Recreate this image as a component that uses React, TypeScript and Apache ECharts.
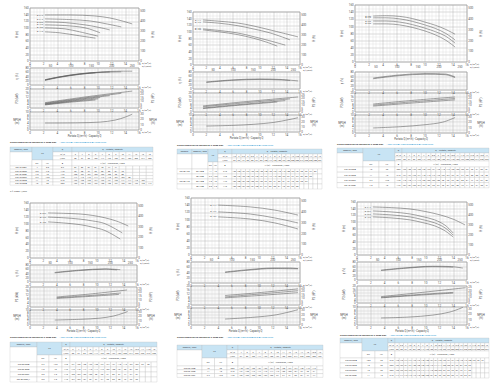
import React, { useEffect, useRef } from "react";
import * as echarts from "echarts";

type Pt = [number, number];

const Q_MAX = 16;

// ---------------- Panel 1 (top-left) ----------------
const P1_CURVE_LABELS = ["Ø 219", "Ø 210", "Ø 200", "Ø 190", "Ø 180", "Ø 170"];
const P1_HEAD: Pt[][] = [
  [[2.2, 139], [5.9, 139], [9.5, 136], [11.7, 130], [13.5, 121], [15.0, 112]],
  [[2.2, 127], [5.9, 125], [8.8, 121], [11.0, 113], [13.4, 103]],
  [[2.2, 118], [5.1, 116], [8.1, 109], [10.0, 102], [11.7, 94]],
  [[2.2, 109], [5.1, 107], [8.1, 100], [10.3, 85]],
  [[2.2, 100], [5.1, 97], [7.3, 88], [10.0, 75]],
  [[2.2, 88], [4.4, 85], [7.3, 76], [9.6, 69]],
];
const P1_ETA: Pt[][] = [
  [[2.2, 24], [4.4, 38], [7.3, 52], [10.3, 61], [13.2, 65], [15.0, 65]],
  [[2.2, 22], [4.4, 36], [7.3, 50], [10.3, 59], [13.4, 62]],
  [[2.2, 25], [4.4, 39], [7.3, 53], [10.3, 60], [11.7, 61]],
  [[2.2, 23], [4.4, 38], [7.3, 51], [9.6, 57]],
];
const P1_POWER: Pt[][] = [
  [[2.2, 5.6], [8.5, 12.0], [15.0, 17.8]],
  [[2.2, 5.0], [8.0, 10.6], [13.4, 15.4]],
  [[2.2, 4.4], [7.0, 9.0], [11.7, 13.0]],
  [[2.2, 4.0], [6.5, 7.8], [10.3, 11.0]],
  [[2.2, 3.6], [6.0, 6.8], [10.0, 9.6]],
  [[2.2, 3.2], [5.5, 5.8], [9.6, 8.4]],
];
const P1_NPSH: Pt[][] = [
  [[2.2, 3.9], [7.0, 4.0], [10.3, 4.4], [12.5, 5.5], [14.0, 7.2], [15.0, 8.8]],
];
const P1_MODELS = ["CM 40-200F", "CM 40-200E", "CM 40-200D", "CM 40-200C", "CM 40-200B", "CM 40-200A"];
const P1_KW = ["4", "5.5", "7.5", "9.2", "11", "15"];
const P1_HP = ["5.5", "7.5", "10", "12.5", "15", "20"];
const P1_AMP = ["8.2", "11.0", "14.6", "17.8", "21.0", "28.0"];
const P1_Q = [3, 4, 5, 6, 7, 8, 9, 10, 11, 12, 13, 15];
const P1_LMIN = [50, 67, 83, 100, 117, 133, 150, 167, 183, 200, 217, 250];
const P1_ROWS = [
  [87, 86, 84, 81, 78, 74, 71],
  [99, 98, 97, 93, 89, 85, 81, 75],
  [108, 107, 107, 105, 103, 100, 95, 88],
  [117, 116, 116, 114, 112, 110, 107, 103, 98],
  [126, 125, 125, 124, 123, 121, 120, 117, 114, 110, 106],
  [139, 139, 139, 139, 138, 138, 137, 135, 132, 129, 125, 112],
];

// ---------------- Panel 2 (top-middle) ----------------
const P2_CURVE_LABELS = ["Ø 174", "Ø 169", "Ø 156", "Ø 150"];
const P2_HEAD: Pt[][] = [
  [[1.5, 136], [4, 132], [6.6, 127], [9, 118], [11.5, 106], [13.5, 96], [15.7, 85]],
  [[1.5, 130], [4, 126], [6.6, 119], [9, 109], [11.5, 97], [14.5, 76]],
  [[1.5, 109], [4, 104], [6.6, 97], [9, 86], [11.5, 73], [13.8, 60]],
  [[1.5, 106], [4, 100], [6.6, 92], [9, 81], [11, 69], [12.6, 57]],
];
const P2_ETA: Pt[][] = [
  [[2, 33], [6, 43], [10, 47], [13, 45], [15.7, 38]],
  [[2, 31], [6, 41], [10, 45], [13, 43], [14.5, 40]],
];
const P2_POWER: Pt[][] = [
  [[1.5, 6.4], [8, 11.0], [15.7, 15.8]],
  [[1.5, 5.5], [7.5, 9.5], [14.5, 13.8]],
  [[1.5, 4.2], [8, 8.5], [13.8, 12.0]],
  [[1.5, 3.6], [7, 7.2], [12.6, 10.5]],
];
const P2_NPSH: Pt[][] = [
  [[2, 3.5], [6, 3.9], [9, 4.5], [12, 5.6], [14.5, 7.4], [15.7, 8.4]],
];
const P2_GROUPS = ["CM 50-160", "", "CM 50-125", ""];
const P2_MODELS = ["50-160A", "50-160B", "50-125A", "50-125B"];
const P2_KW = ["11", "9.2", "7.5", "5.5"];
const P2_HP = ["15", "12.5", "10", "7.5"];
const P2_AMP = ["21.0", "17.8", "14.6", "11.0"];
const P2_Q = [1.5, 2, 2.5, 3, 3.5, 4, 5, 6, 7, 8, 9, 10, 11, 12, 12.5, 13, 13.5, 14, 15, 16];
const P2_LMIN = [25, 33, 42, 50, 58, 67, 83, 100, 117, 133, 150, 167, 183, 200, 208, 217, 225, 233, 250, 267];
const P2_ROWS = [
  [136, 135, 134, 134, 133, 132, 130, 128, 126, 122, 118, 113, 108, 104, 101, 98, 96, 94, 89],
  [130, 129, 129, 128, 127, 126, 124, 121, 117, 113, 109, 104, 99, 94, 92, 89, 86, 83],
  [109, 108, 107, 106, 105, 104, 102, 99, 95, 91, 86, 81, 76, 70, 68, 65, 62],
  [106, 105, 104, 102, 101, 100, 97, 94, 89, 85, 81, 75, 69, 62, 58],
];

// ---------------- Panel 3 (top-right) ----------------
const P3_CURVE_LABELS = ["Ø 250", "Ø 240", "Ø 230", "Ø 220"];
const P3_HEAD: Pt[][] = [
  [[2.6, 129], [4.5, 130], [6.4, 128], [8.2, 122], [10.0, 112], [11.5, 103], [12.9, 92], [14.3, 78]],
  [[2.6, 124], [4.5, 124], [6.4, 121], [8.2, 114], [10.0, 104], [11.5, 94], [12.9, 81], [14.3, 62]],
  [[2.6, 115], [4.5, 115], [6.4, 112], [8.2, 105], [10.0, 95], [11.5, 85], [12.9, 73], [14.3, 53]],
  [[2.6, 107], [4.5, 107], [6.4, 104], [8.2, 97], [10.0, 87], [11.5, 76], [12.9, 62], [14.3, 42]],
];
const P3_ETA: Pt[][] = [
  [[2.6, 53], [6.4, 67], [10.0, 73], [12.9, 71], [14.3, 58]],
  [[2.6, 50], [6.4, 64], [10.0, 70], [12.9, 68], [14.3, 55]],
];
const P3_POWER: Pt[][] = [
  [[2.6, 8.4], [8.5, 12.4], [14.3, 15.8]],
  [[2.6, 7.2], [8.5, 10.9], [14.3, 14.2]],
  [[2.6, 6.2], [8.5, 9.6], [14.3, 12.8]],
];
const P3_NPSH: Pt[][] = [
  [[2.6, 2.8], [6.5, 3.5], [10, 4.6], [12.5, 6.0], [14.3, 8.6]],
];
const P3_MODELS = ["CM 40-250A", "CM 40-250B", "CM 40-250C", "CM 40-250D"];
const P3_KW = ["15", "11", "9.2", "7.5"];
const P3_HP = ["20", "15", "12.5", "10"];
const P3_AMP = ["28.0", "21.0", "17.8", "14.6"];
const P3_Q = [3, 4, 5, 6, 7, 8, 8.5, 9, 9.5, 10, 10.5, 11, 11.5, 12, 12.5, 13, 13.5, 14];
const P3_LMIN = [50, 67, 83, 100, 117, 133, 142, 150, 158, 167, 175, 183, 192, 200, 208, 217, 225, 233];
const P3_ROWS = [
  [129, 130, 129, 128, 126, 123, 121, 118, 115, 112, 109, 106, 103, 99, 95, 91, 86, 81],
  [124, 124, 123, 121, 118, 115, 112, 110, 107, 104, 101, 97, 94, 90, 85, 80, 75, 68],
  [115, 115, 114, 112, 109, 106, 103, 100, 98, 95, 92, 89, 85, 81, 77, 72, 67, 59],
  [107, 107, 106, 104, 101, 98, 95, 92, 90, 87, 83, 80, 76, 71, 66, 61, 55, 47],
];

// ---------------- Panel 4 (bottom-left) ----------------
const P4_CURVE_LABELS = ["Ø 209", "Ø 199", "Ø 188"];
const P4_HEAD: Pt[][] = [
  [[2.7, 131], [5, 130], [7.5, 128], [9.3, 124], [11.2, 117], [13, 107], [14.7, 93]],
  [[2.7, 119], [5, 117], [7.5, 113], [9.3, 108], [11.2, 100], [13.8, 73]],
  [[2.7, 105], [5, 102], [7.5, 97], [9.3, 90], [11.2, 80], [13.5, 55]],
];
const P4_ETA: Pt[][] = [
  [[3.7, 45], [7.5, 56], [11.2, 62], [13.5, 58]],
  [[3.7, 43], [7.5, 54], [11.2, 60], [13.0, 57]],
];
const P4_POWER: Pt[][] = [
  [[4, 10.0], [9, 13.0], [14.5, 17.0]],
  [[4, 9.2], [9, 11.5], [13.6, 14.0]],
  [[4, 8.6], [9, 10.6], [13.3, 12.6]],
];
const P4_NPSH: Pt[][] = [
  [[3.7, 3.3], [7.5, 3.8], [10.5, 4.6], [12.5, 6.0], [14.0, 8.0], [14.6, 9.0]],
];
const P4_MODELS = ["CM 50-200A", "CM 50-200B", "CM 50-200C", "CM 50-200C/1"];
const P4_KW = ["9.2", "7.5", "5.5", "5.5"];
const P4_HP = ["12.5", "10", "7.5", "7.5"];
const P4_AMP = ["17.8", "14.6", "11.0", "11.0"];
const P4_Q = [3, 4, 5, 6, 7, 8, 9, 10, 11, 12, 13, 13.5, 14, 14.5, 15];
const P4_LMIN = [50, 67, 83, 100, 117, 133, 150, 167, 183, 200, 217, 225, 233, 242, 250];
const P4_ROWS = [
  [131, 130, 130, 129, 128, 127, 124, 121, 118, 113, 107, 103, 99, 95],
  [119, 118, 117, 115, 114, 112, 109, 105, 101, 95, 87, 82],
  [105, 103, 102, 100, 98, 95, 91, 86, 81, 74, 64, 57],
  [104, 103, 101, 99, 97, 94, 90, 85, 80, 73, 63, 56],
];

// ---------------- Panel 5 (bottom-middle) ----------------
const P5_CURVE_LABELS = ["Ø 174", "Ø 162", "Ø 152"];
const P5_HEAD: Pt[][] = [
  [[4.0, 140], [8.7, 135], [12.3, 126], [15.7, 112]],
  [[4.0, 121], [8.7, 115], [12.3, 104], [15.7, 90]],
  [[4.0, 107], [8.7, 101], [12.3, 90], [15.7, 73]],
];
const P5_ETA: Pt[][] = [
  [[5.0, 42], [8.5, 51], [12.0, 57], [14.5, 57], [15.7, 55]],
  [[5.0, 40], [8.5, 49], [12.0, 55], [15.7, 54]],
];
const P5_POWER: Pt[][] = [
  [[5, 10.0], [10, 13.0], [15.7, 17.0]],
  [[5, 8.5], [10, 11.5], [15.7, 15.0]],
  [[5, 7.5], [10, 10.0], [15.7, 13.0]],
];
const P5_NPSH: Pt[][] = [
  [[5, 3.5], [9, 4.5], [12.5, 6.0], [15.7, 9.0]],
];
const P5_MODELS = ["CM 65-160A", "CM 65-160B", "CM 65-160C"];
const P5_KW = ["15", "11", "9.2"];
const P5_HP = ["20", "15", "12.5"];
const P5_AMP = ["28.0", "21.0", "17.8"];
const P5_Q = [4, 5, 6, 7, 8, 9, 10, 11, 12, 13, 14, 15, 15.5, 16];
const P5_LMIN = [67, 83, 100, 117, 133, 150, 167, 183, 200, 217, 233, 250, 258, 267];
const P5_ROWS = [
  [140, 139, 138, 137, 136, 134, 132, 130, 127, 124, 120, 116, 113],
  [121, 120, 119, 117, 116, 114, 112, 109, 105, 101, 97, 93, 91],
  [107, 106, 105, 103, 102, 100, 97, 94, 91, 86, 81, 77, 74],
];

// ---------------- Panel 6 (bottom-right) ----------------
const P6_CURVE_LABELS = ["Ø 219", "Ø 209", "Ø 200", "Ø 190"];
const P6_HEAD: Pt[][] = [
  [[2.3, 145], [5, 143], [7.7, 139], [10, 131], [12.1, 121], [14, 108], [15.7, 91]],
  [[2.3, 133], [5, 130], [7.7, 124], [9.5, 116], [11.3, 106], [12.8, 90], [14, 66]],
  [[2.3, 124], [5, 121], [7.7, 115], [9.5, 107], [11.3, 97], [12.8, 82], [14, 60]],
  [[2.3, 115], [5, 112], [7.7, 106], [9.5, 98], [11.3, 88], [12.8, 73], [14, 54]],
];
const P6_ETA: Pt[][] = [
  [[3.5, 44], [7, 54], [11, 61], [13.5, 60], [15.4, 53]],
  [[3.5, 42], [7, 52], [11, 59], [14, 57]],
];
const P6_POWER: Pt[][] = [
  [[3.5, 7.5], [9.5, 12.5], [15.8, 18.0]],
  [[3.5, 6.5], [9, 10.0], [14.0, 12.5]],
  [[3.5, 6.0], [9, 9.2], [14.0, 11.6]],
];
const P6_NPSH: Pt[][] = [
  [[3.5, 3.9], [7.5, 4.4], [11, 5.5], [13.5, 7.2], [15.4, 9.8]],
];
const P6_MODELS = ["CM 65-200A", "CM 65-200B", "CM 65-200C", "CM 65-200D"];
const P6_KW = ["18.5", "15", "15", "11"];
const P6_HP = ["25", "20", "20", "15"];
const P6_AMP = ["34.0", "28.0", "28.0", "21.0"];
const P6_Q = [3, 3.5, 4, 4.5, 5, 6, 7, 8, 9, 10, 10.5, 11, 11.5, 12, 12.5, 13, 13.5, 14, 14.5, 15, 15.5, 16];
const P6_LMIN = [50, 58, 67, 75, 83, 100, 117, 133, 150, 167, 175, 183, 192, 200, 208, 217, 225, 233, 242, 250, 258, 267];
const P6_ROWS = [
  [145, 145, 144, 144, 143, 142, 140, 138, 134, 131, 129, 126, 124, 121, 118, 115, 112, 108, 104, 99, 94],
  [132, 132, 131, 131, 130, 128, 126, 123, 119, 114, 111, 108, 105, 101, 96, 87, 78, 66],
  [123, 123, 122, 122, 121, 119, 117, 114, 110, 105, 102, 99, 96, 92, 87, 79, 71, 60],
  [114, 114, 113, 113, 112, 110, 108, 105, 101, 96, 93, 90, 86, 82, 77, 70, 63, 54],
];

// ---------------- styling / layout (no data) ----------------
const BLUE = "#c8e4f4";
const INK = "#5a5a5a";
const FONT = "Roboto, 'DejaVu Sans', sans-serif";

const stdFixed = (models: string[], kw: string[], hp: string[], amp: string[]) => [
  { mode: "model", top: "Modello / Type", bot: "", vals: models },
  { mode: "blueL", top: "P2", bot: "kW", vals: kw },
  { mode: "blueR", bot: "HP", vals: hp },
  { mode: "q", top: "Q", bot: "A", vals: amp },
];

const PANELS = [
  { labels: P1_CURVE_LABELS, head: P1_HEAD, eta: P1_ETA, power: P1_POWER, npsh: P1_NPSH,
    table: { fixed: stdFixed(P1_MODELS, P1_KW, P1_HP, P1_AMP), q: P1_Q, l: P1_LMIN, rows: P1_ROWS } },
  { labels: P2_CURVE_LABELS, head: P2_HEAD, eta: P2_ETA, power: P2_POWER, npsh: P2_NPSH,
    table: { fixed: [{ mode: "model", top: "Modello", bot: "", vals: P2_GROUPS }, ...stdFixed(P2_MODELS, P2_KW, P2_HP, P2_AMP)], q: P2_Q, l: P2_LMIN, rows: P2_ROWS } },
  { labels: P3_CURVE_LABELS, head: P3_HEAD, eta: P3_ETA, power: P3_POWER, npsh: P3_NPSH,
    table: { fixed: stdFixed(P3_MODELS, P3_KW, P3_HP, P3_AMP), q: P3_Q, l: P3_LMIN, rows: P3_ROWS } },
  { labels: P4_CURVE_LABELS, head: P4_HEAD, eta: P4_ETA, power: P4_POWER, npsh: P4_NPSH,
    table: { fixed: stdFixed(P4_MODELS, P4_KW, P4_HP, P4_AMP), q: P4_Q, l: P4_LMIN, rows: P4_ROWS } },
  { labels: P5_CURVE_LABELS, head: P5_HEAD, eta: P5_ETA, power: P5_POWER, npsh: P5_NPSH,
    table: { fixed: stdFixed(P5_MODELS, P5_KW, P5_HP, P5_AMP), q: P5_Q, l: P5_LMIN, rows: P5_ROWS } },
  { labels: P6_CURVE_LABELS, head: P6_HEAD, eta: P6_ETA, power: P6_POWER, npsh: P6_NPSH,
    table: { fixed: stdFixed(P6_MODELS, P6_KW, P6_HP, P6_AMP), q: P6_Q, l: P6_LMIN, rows: P6_ROWS } },
];

const LAYOUTS = [
  { x: 30, w: 109, h: [8, 61], e: [68, 85], p: [89, 108], n: [112, 130],
    tbl: { x: 10, y: 147, w: 143, title: 142, widths: [22, 10, 11, 19], header: [5, 4, 4, 6], rowH: 3.2 } },
  { x: 193, w: 107, h: [12, 65], e: [72, 89], p: [93, 112], n: [115, 132],
    tbl: { x: 177, y: 149, w: 145, title: 145, widths: [15, 16, 5, 5, 14], header: [5, 4, 4, 7], rowH: 5 } },
  { x: 355, w: 112, h: [5, 62], e: [72, 90], p: [93, 112], n: [115, 133],
    tbl: { x: 337, y: 148, w: 152, title: 144, widths: [26, 16, 16, 7], header: [5, 4, 4, 6], rowH: 5.2 } },
  { x: 30, w: 107, h: [203, 258], e: [265, 282], p: [287, 307], n: [310, 325],
    tbl: { x: 10, y: 342, w: 147, title: 337.5, widths: [27, 12, 13, 8], header: [5, 4, 4, 7], rowH: 5 } },
  { x: 191, w: 109, h: [198, 255], e: [262, 283], p: [286, 305], n: [308, 325],
    tbl: { x: 177, y: 345, w: 146, title: 337.5, widths: [25, 12.5, 12.5, 11], header: [5, 4, 4, 8], rowH: 3.8 } },
  { x: 357, w: 110, h: [202, 255], e: [262, 280], p: [286, 303], n: [307, 325],
    tbl: { x: 340, y: 338, w: 149, title: 335, widths: [22, 13, 13, 7], header: [5, 4, 4, 7], rowH: 5 } },
];

const SUBS = [
  { key: "h", max: 160, step: 20, right: { max: 524.9, step: 100 }, lname: "H (m)", rname: "H (ft)", rot: true },
  { key: "e", max: 80, step: 20, lname: "η (%)", rot: true },
  { key: "p", max: 20, step: 4, right: { max: 26.8, step: 5 }, lname: "P2 (kW)", rname: "P2 (HP)", rot: true },
  { key: "n", max: 10, step: 2, right: { max: 32.8, step: 10 }, lname: "NPSH\n(m)", rname: "NPSH\n(ft)", rot: false },
];

const lbl = (extra: any = {}) => ({ fontSize: 3, color: "#555", fontFamily: FONT, margin: 1.2, ...extra });

function txt(x: number, y: number, text: string, size: number, opts: any = {}) {
  return {
    type: "text", x, y, silent: true, rotation: opts.rotation || 0,
    style: { text, fontSize: size, fill: opts.fill || "#444", fontFamily: FONT, fontWeight: opts.bold ? "bold" : "normal",
      align: opts.align || "center", verticalAlign: "middle", lineHeight: size * 1.1 },
  };
}

function tableEls(T: any, G: any) {
  const els: any[] = [];
  const [h1, h2, h3, h4] = G.header;
  const yD = G.y + h1 + h2 + h3 + h4;
  const fixedW = G.widths.reduce((a: number, b: number) => a + b, 0);
  const flowW = G.w - fixedW;
  const nF = T.q.length;
  const wf = flowW / nF;
  const cell = (x: number, y: number, w: number, h: number, fill: string, text?: string) => {
    els.push({ type: "rect", silent: true, shape: { x, y, width: w, height: h }, style: { fill, stroke: "#b8b8b8", lineWidth: 0.3 } });
    if (text) els.push(txt(x + w / 2, y + h / 2, text, 2.1, { fill: "#3a3a3a" }));
  };
  let cx = G.x;
  T.fixed.forEach((col: any, i: number) => {
    const w = G.widths[i];
    if (col.mode === "model") {
      cell(cx, G.y, w, h1, BLUE, col.top);
      cell(cx, G.y + h1, w, h2 + h3 + h4, "#fff", col.bot);
    } else if (col.mode === "blueL") {
      cell(cx, G.y, w + G.widths[i + 1], h1 + h2 + h3, BLUE, col.top);
      cell(cx, G.y + h1 + h2 + h3, w, h4, "#fff", col.bot);
    } else if (col.mode === "blueR") {
      cell(cx, G.y + h1 + h2 + h3, w, h4, "#fff", col.bot);
    } else {
      cell(cx, G.y, w, h1, BLUE, col.top);
      cell(cx, G.y + h1, w, h2, "#fff", "m³/h");
      cell(cx, G.y + h1 + h2, w, h3, "#fff", "l/min");
      cell(cx, G.y + h1 + h2 + h3, w, h4, "#fff", col.bot);
    }
    col.vals.forEach((v: string, r: number) => cell(cx, yD + r * G.rowH, w, G.rowH, "#fff", v));
    cx += w;
  });
  cell(cx, G.y, flowW, h1, BLUE, "Q = Portata / Capacity");
  T.q.forEach((q: number, k: number) => {
    cell(cx + k * wf, G.y + h1, wf, h2, "#fff", String(q));
    cell(cx + k * wf, G.y + h1 + h2, wf, h3, "#fff", String(T.l[k]));
  });
  cell(cx, G.y + h1 + h2 + h3, flowW, h4, "#fff", "H (m) = Prevalenza / Head");
  T.rows.forEach((row: number[], r: number) => {
    for (let k = 0; k < nF; k++) {
      cell(cx + k * wf, yD + r * G.rowH, wf, G.rowH, "#fff", row[k] != null ? String(row[k]) : "");
    }
  });
  els.push({
    type: "text", x: G.x, y: G.title, silent: true,
    style: {
      text: "{a|CARATTERISTICHE TECNICHE A 2900 GIRI} {b|- TECHNICAL PERFORMANCE AT 2900 RPM}",
      align: "left", verticalAlign: "middle", fontFamily: FONT,
      rich: {
        a: { fontSize: 2.4, fontWeight: "bold", fill: "#222", fontFamily: FONT },
        b: { fontSize: 2.4, fill: "#2b9bd2", fontFamily: FONT },
      },
    },
  });
  return els;
}

function buildOption() {
  const grid: any[] = [];
  const xAxis: any[] = [];
  const yAxis: any[] = [];
  const series: any[] = [];
  const graphic: any[] = [];

  PANELS.forEach((P: any, pi: number) => {
    const L: any = LAYOUTS[pi];
    const dataBy: any = { h: P.head, e: P.eta, p: P.power, n: P.npsh };
    SUBS.forEach((s: any, si: number) => {
      const [top, bottom] = L[s.key];
      const gi = grid.length;
      grid.push({ left: L.x, top, width: L.w, height: bottom - top, show: true, borderColor: "#8a8a8a", borderWidth: 0.6,
        backgroundColor: "#fff", containLabel: false, outerBoundsMode: "none" });
      const xi = xAxis.length;
      xAxis.push({
        type: "value", gridIndex: gi, min: 0, max: Q_MAX, interval: 2,
        axisLine: { show: false }, axisTick: { show: false },
        axisLabel: lbl({ margin: 1 }),
        splitLine: { show: true, lineStyle: { color: "#b0b0b0", width: 0.45 } },
        minorTick: { show: false, splitNumber: 4 },
        minorSplitLine: { show: true, lineStyle: { color: "#d6d6d6", width: 0.35 } },
      });
      if (si === 0) {
        xAxis.push({
          type: "value", gridIndex: gi, min: 0, max: (Q_MAX * 1000) / 60, interval: 50, position: "bottom", offset: 2.6,
          axisLine: { show: false }, axisTick: { show: false }, splitLine: { show: false }, axisLabel: lbl({ margin: 1 }),
        });
      }
      const yi = yAxis.length;
      yAxis.push({
        type: "value", gridIndex: gi, min: 0, max: s.max, interval: s.step,
        axisLine: { show: false }, axisTick: { show: false }, axisLabel: lbl(),
        splitLine: { show: true, lineStyle: { color: "#b0b0b0", width: 0.45 } },
        minorTick: { show: false, splitNumber: 2 },
        minorSplitLine: { show: true, lineStyle: { color: "#d6d6d6", width: 0.35 } },
      });
      if (s.right) {
        yAxis.push({
          type: "value", gridIndex: gi, position: "right", min: 0, max: s.right.max, interval: s.right.step,
          axisLine: { show: false }, axisTick: { show: false }, splitLine: { show: false }, axisLabel: lbl(),
        });
      }
      (dataBy[s.key] as Pt[][]).forEach((curve) => {
        series.push({
          type: "line", xAxisIndex: xi, yAxisIndex: yi, data: curve, smooth: 0.35, symbol: "none", showSymbol: false, silent: true,
          color: INK, itemStyle: { color: INK }, lineStyle: { color: INK, width: 0.55 },
        });
      });
      if (s.key === "h") {
        series.push({
          type: "scatter", xAxisIndex: xi, yAxisIndex: yi, symbolSize: 1, silent: true,
          color: "rgba(0,0,0,0)", itemStyle: { color: "rgba(0,0,0,0)" },
          data: P.head.map((c: Pt[], ci: number) => ({ value: c[0], name: P.labels[ci] })),
          label: { show: true, position: "left", distance: 1.5, formatter: "{b}", fontSize: 2.4, color: "#444", fontFamily: FONT },
        });
      }
      const mid = (top + bottom) / 2;
      graphic.push(txt(L.x - 13, mid, s.lname, 2.8, { rotation: s.rot ? Math.PI / 2 : 0 }));
      if (s.rname) graphic.push(txt(L.x + L.w + 14, mid, s.rname, 2.8, { rotation: s.rot ? Math.PI / 2 : 0 }));
      graphic.push(txt(L.x + L.w + 3, bottom + 2.8, "Q (m³/h)", 2.4, { align: "left" }));
      if (s.key === "h") graphic.push(txt(L.x + L.w + 3, bottom + 5.4, "Q (l/min)", 2.4, { align: "left" }));
      if (s.key === "n") graphic.push(txt(L.x + L.w / 2, bottom + 6.5, "Portata Q (m³/h) - Capacity Q", 2.6));
    });
    graphic.push(...tableEls(P.table, L.tbl));
  });
  graphic.push(txt(10, 191.5, "n ≈ 2900 1/min", 2.5, { align: "left" }));

  return {
    animation: false,
    backgroundColor: "#fff",
    color: [INK],
    textStyle: { fontFamily: FONT },
    grid, xAxis, yAxis, series,
    graphic: { elements: graphic },
  };
}

export default function App() {
  const ref = useRef<HTMLDivElement>(null);
  useEffect(() => {
    document.body.style.margin = "0";
    const chart = echarts.init(ref.current as HTMLDivElement, undefined, { renderer: "svg", width: 500, height: 386 });
    chart.setOption(buildOption() as any);
    return () => chart.dispose();
  }, []);
  return <div ref={ref} style={{ width: 500, height: 386, position: "absolute", left: 0, top: 0, background: "#fff", opacity: 0.999 }} />;
}
